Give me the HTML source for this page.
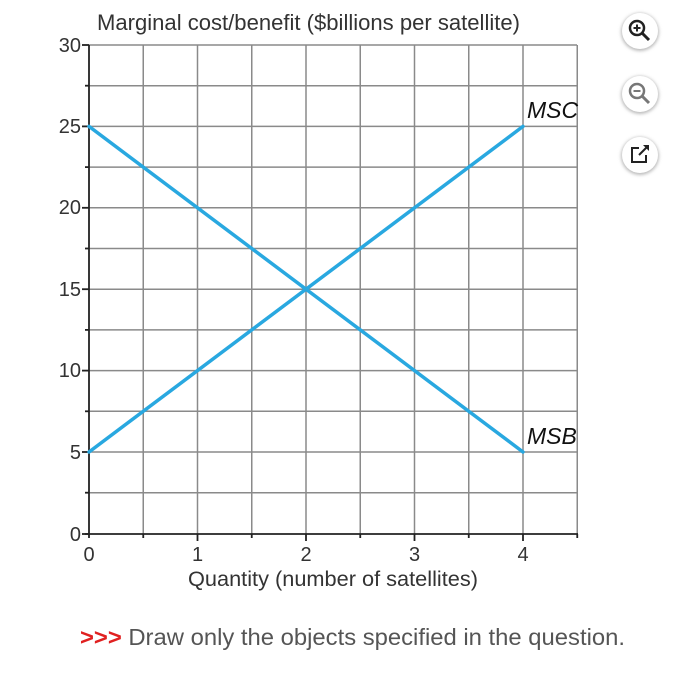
<!DOCTYPE html>
<html><head><style>
body{margin:0;background:#fff;width:700px;height:682px;overflow:hidden}
svg{display:block}
text{font-family:"Liberation Sans",Arial,sans-serif}
</style></head><body>
<svg width="700" height="682" viewBox="0 0 700 682">
<defs><filter id="sh" x="-30%" y="-30%" width="160%" height="160%"><feGaussianBlur stdDeviation="1.5"/></filter></defs>
<g stroke="#8a8a8a" stroke-width="1.5">
<line x1="143.25" y1="45" x2="143.25" y2="534"/>
<line x1="197.5" y1="45" x2="197.5" y2="534"/>
<line x1="251.75" y1="45" x2="251.75" y2="534"/>
<line x1="306" y1="45" x2="306" y2="534"/>
<line x1="360.25" y1="45" x2="360.25" y2="534"/>
<line x1="414.5" y1="45" x2="414.5" y2="534"/>
<line x1="468.75" y1="45" x2="468.75" y2="534"/>
<line x1="523" y1="45" x2="523" y2="534"/>
<line x1="577.25" y1="45" x2="577.25" y2="534"/>
<line x1="89" y1="45" x2="577" y2="45"/>
<line x1="89" y1="85.7" x2="577" y2="85.7"/>
<line x1="89" y1="126.4" x2="577" y2="126.4"/>
<line x1="89" y1="167.1" x2="577" y2="167.1"/>
<line x1="89" y1="207.8" x2="577" y2="207.8"/>
<line x1="89" y1="248.5" x2="577" y2="248.5"/>
<line x1="89" y1="289.2" x2="577" y2="289.2"/>
<line x1="89" y1="329.9" x2="577" y2="329.9"/>
<line x1="89" y1="370.6" x2="577" y2="370.6"/>
<line x1="89" y1="411.3" x2="577" y2="411.3"/>
<line x1="89" y1="452" x2="577" y2="452"/>
<line x1="89" y1="492.7" x2="577" y2="492.7"/>
</g>
<g stroke="#222" stroke-width="1.8">
<line x1="89" y1="45" x2="89" y2="538"/>
<line x1="85" y1="534" x2="578" y2="534"/>
<line x1="82" y1="45" x2="89" y2="45"/>
<line x1="82" y1="126.4" x2="89" y2="126.4"/>
<line x1="82" y1="207.8" x2="89" y2="207.8"/>
<line x1="82" y1="289.2" x2="89" y2="289.2"/>
<line x1="82" y1="370.6" x2="89" y2="370.6"/>
<line x1="82" y1="452" x2="89" y2="452"/>
<line x1="82" y1="534" x2="89" y2="534"/>
<line x1="85" y1="85.7" x2="89" y2="85.7"/><line x1="85" y1="167.1" x2="89" y2="167.1"/>
<line x1="85" y1="248.5" x2="89" y2="248.5"/><line x1="85" y1="329.9" x2="89" y2="329.9"/>
<line x1="85" y1="411.3" x2="89" y2="411.3"/><line x1="85" y1="492.7" x2="89" y2="492.7"/>
<line x1="143.25" y1="534" x2="143.25" y2="538"/><line x1="197.5" y1="534" x2="197.5" y2="541"/>
<line x1="251.75" y1="534" x2="251.75" y2="538"/><line x1="306" y1="534" x2="306" y2="541"/>
<line x1="360.25" y1="534" x2="360.25" y2="538"/><line x1="414.5" y1="534" x2="414.5" y2="541"/>
<line x1="468.75" y1="534" x2="468.75" y2="538"/><line x1="523" y1="534" x2="523" y2="541"/>
<line x1="577.25" y1="534" x2="577.25" y2="538"/>
</g>
<g stroke="#29a8e0" stroke-width="3.5" stroke-linecap="round">
<line x1="89" y1="126.4" x2="523" y2="452"/>
<line x1="89" y1="452" x2="523" y2="126.4"/>
</g>
<g fill="#333" font-size="20" text-anchor="end">
<text x="81" y="52">30</text><text x="81" y="133">25</text><text x="81" y="214">20</text>
<text x="81" y="296">15</text><text x="81" y="377">10</text><text x="81" y="459">5</text><text x="81" y="541">0</text>
</g>
<g fill="#333" font-size="20" text-anchor="middle">
<text x="89" y="561">0</text><text x="197.5" y="561">1</text><text x="306" y="561">2</text><text x="414.5" y="561">3</text><text x="523" y="561">4</text>
</g>
<text x="97" y="30" font-size="22" fill="#333" textLength="423" lengthAdjust="spacingAndGlyphs">Marginal cost/benefit ($billions per satellite)</text>
<text x="188" y="586" font-size="21.5" fill="#333" textLength="290" lengthAdjust="spacingAndGlyphs">Quantity (number of satellites)</text>
<text x="527" y="118" font-size="23" font-style="italic" fill="#111">MSC</text>
<text x="527" y="444" font-size="23" font-style="italic" fill="#111">MSB</text>
<text x="80" y="645" font-size="23.5" fill="#555" textLength="545" lengthAdjust="spacingAndGlyphs"><tspan fill="#e02020" font-weight="bold">&gt;&gt;&gt;</tspan> Draw only the objects specified in the question.</text>
<g>
<circle cx="640" cy="32" r="19" fill="#bbb" filter="url(#sh)"/><circle cx="640" cy="31" r="18" fill="#fff"/>
<circle cx="637" cy="28" r="7" fill="none" stroke="#222" stroke-width="2.5"/><line x1="642" y1="33" x2="649" y2="40" stroke="#222" stroke-width="3"/>
<line x1="633.5" y1="28" x2="640.5" y2="28" stroke="#222" stroke-width="2"/><line x1="637" y1="24.5" x2="637" y2="31.5" stroke="#222" stroke-width="2"/>
<circle cx="640" cy="95" r="19" fill="#bbb" filter="url(#sh)"/><circle cx="640" cy="94" r="18" fill="#fff"/>
<circle cx="637" cy="91" r="7" fill="none" stroke="#777" stroke-width="2.5"/><line x1="642" y1="96" x2="649" y2="103" stroke="#777" stroke-width="3"/>
<line x1="633.5" y1="91" x2="640.5" y2="91" stroke="#777" stroke-width="2"/>
<circle cx="640" cy="156" r="19" fill="#bbb" filter="url(#sh)"/><circle cx="640" cy="155" r="18" fill="#fff"/>
<path d="M639 148 H632 V162 H646 V155" fill="none" stroke="#222" stroke-width="2"/>
<line x1="639" y1="155" x2="648" y2="146" stroke="#222" stroke-width="2"/><path d="M643 145 H649 V151 Z" fill="#222"/>
</g>
</svg>
</body></html>
